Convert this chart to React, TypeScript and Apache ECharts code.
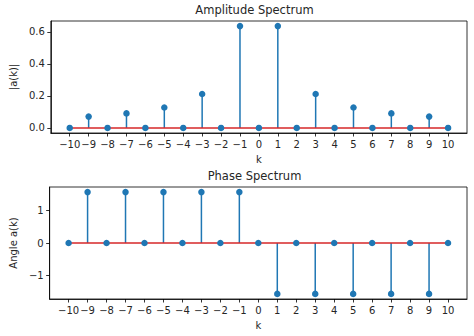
import React, { useEffect, useRef } from "react";
import * as echarts from "echarts";

// Harmonic index k and Fourier coefficients of a square wave
const ks = [-10, -9, -8, -7, -6, -5, -4, -3, -2, -1, 0, 1, 2, 3, 4, 5, 6, 7, 8, 9, 10];
const amplitude = [
  0, 0.0707, 0, 0.0909, 0, 0.1273, 0, 0.2122, 0, 0.6366, 0,
  0.6366, 0, 0.2122, 0, 0.1273, 0, 0.0909, 0, 0.0707, 0,
];
const phase = [
  0, 1.5708, 0, 1.5708, 0, 1.5708, 0, 1.5708, 0, 1.5708, 0,
  -1.5708, 0, -1.5708, 0, -1.5708, 0, -1.5708, 0, -1.5708, 0,
];
const ampTicks = [0, 0.2, 0.4, 0.6];
const phaseTicks = [-1, 0, 1];

const BLUE = "#1f77b4";
const RED = "#d62728";
const TEXT = "#262626";
const FONT = "DejaVu Sans";

const minus = (s: string) => s.replace("-", "\u2212");

function xAxisFor(gridIndex: number) {
  return {
    type: "value" as const,
    gridIndex,
    min: -11,
    max: 11,
    name: "k",
    nameLocation: "middle" as const,
    nameGap: 21,
    nameTextStyle: { color: TEXT, fontSize: 10, fontFamily: FONT },
    splitLine: { show: false },
    axisLine: { show: true, onZero: false, lineStyle: { color: "#000", width: 0.8 } },
    axisTick: { show: true, length: 3.5, lineStyle: { color: "#000", width: 0.8 }, customValues: ks },
    axisLabel: {
      color: TEXT,
      fontSize: 10,
      fontFamily: FONT,
      margin: 6,
      customValues: ks,
      formatter: (v: number) => minus(String(v)),
    },
  };
}

function yAxisFor(gridIndex: number, lo: number, hi: number, ticks: number[], name: string, digits: number) {
  return {
    type: "value" as const,
    gridIndex,
    min: lo,
    max: hi,
    name,
    nameLocation: "middle" as const,
    nameGap: digits > 0 ? 25 : 23,
    nameTextStyle: { color: TEXT, fontSize: 10, fontFamily: FONT },
    splitLine: { show: false },
    axisLine: { show: true, onZero: false, lineStyle: { color: "#000", width: 0.8 } },
    axisTick: { show: true, length: 3.5, lineStyle: { color: "#000", width: 0.8 }, customValues: ticks },
    axisLabel: {
      color: TEXT,
      fontSize: 10,
      fontFamily: FONT,
      margin: 6,
      customValues: ticks,
      formatter: (v: number) => minus(v.toFixed(digits)),
    },
  };
}

function stemSeries(idx: number, values: number[]) {
  const pts = ks.map((k, i) => [k, values[i]]);
  return [
    {
      type: "custom",
      xAxisIndex: idx,
      yAxisIndex: idx,
      z: 2,
      encode: { x: 0, y: 1 },
      data: pts,
      renderItem: (_p: any, api: any) => {
        const x = api.value(0);
        const y = api.value(1);
        const a = api.coord([x, 0]);
        const b = api.coord([x, y]);
        return {
          type: "line",
          shape: { x1: a[0], y1: a[1], x2: b[0], y2: b[1] },
          style: { stroke: BLUE, lineWidth: 1.5 },
        };
      },
    },
    {
      type: "line",
      xAxisIndex: idx,
      yAxisIndex: idx,
      z: 3,
      showSymbol: false,
      data: [
        [ks[0], 0],
        [ks[ks.length - 1], 0],
      ],
      lineStyle: { color: RED, width: 1.5 },
      itemStyle: { color: RED },
    },
    {
      type: "scatter",
      xAxisIndex: idx,
      yAxisIndex: idx,
      z: 4,
      symbolSize: 6.5,
      itemStyle: { color: BLUE, opacity: 1 },
      data: pts,
    },
  ];
}

export default function App() {
  const ref = useRef<HTMLDivElement>(null);

  useEffect(() => {
    document.body.style.margin = "0";
    if (!ref.current) return;
    const chart = echarts.init(ref.current, undefined, { renderer: "svg" });
    const titleStyle = { fontSize: 11.5, fontWeight: "normal", color: TEXT, fontFamily: FONT };
    chart.setOption({
      animation: false,
      backgroundColor: "#fff",
      title: [
        { text: "Amplitude Spectrum", left: 254.5, top: 4, padding: 0, textAlign: "center", textStyle: titleStyle },
        { text: "Phase Spectrum", left: 254.5, top: 170, padding: 0, textAlign: "center", textStyle: titleStyle },
      ],
      grid: [
        { left: 42, right: 7, top: 21, height: 112, show: true, borderColor: "#000", borderWidth: 0.8, backgroundColor: "transparent" },
        { left: 42, right: 7, top: 187, height: 112, show: true, borderColor: "#000", borderWidth: 0.8, backgroundColor: "transparent" },
      ],
      xAxis: [xAxisFor(0), xAxisFor(1)],
      yAxis: [
        yAxisFor(0, -0.0318, 0.6685, ampTicks, "|a(k)|", 1),
        yAxisFor(1, -1.7279, 1.7279, phaseTicks, "Angle a(k)", 0),
      ],
      series: [...stemSeries(0, amplitude), ...stemSeries(1, phase)],
    });
    return () => chart.dispose();
  }, []);

  return <div ref={ref} style={{ width: 474, height: 336 }} />;
}
